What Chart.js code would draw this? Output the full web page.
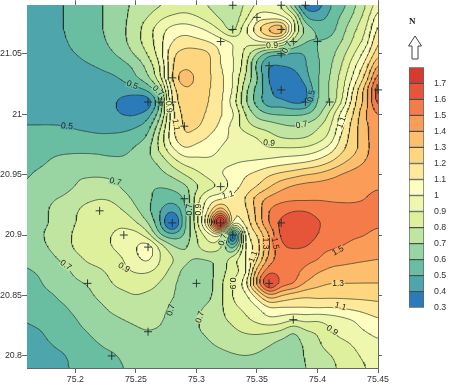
<!DOCTYPE html>
<html>
<head>
<meta charset="utf-8">
<script src="https://cdn.jsdelivr.net/npm/chart.js@4"></script>
<style>
  body { margin: 0; background: #fff; }
  #wrap { position: relative; width: 474px; height: 387px; overflow: hidden; }
  #wrap canvas { position: absolute; }
  #north { position: absolute; left: 409px; top: 16px; font: bold 9px "Liberation Serif"; color: #222; }
  #arrow { position: absolute; left: 406px; top: 35px; }
</style>
</head>
<body>
<div id="wrap">
  <canvas id="map" width="474" height="387" style="left:0;top:0"></canvas>
  <canvas id="bar" width="52" height="255" style="left:409px;top:60px"></canvas>
  <div id="north">N</div>
  <svg id="arrow" width="18" height="26"><path d="M9 1 L15.5 11 H12 V24 H6 V11 H2.5 Z" fill="#fff" stroke="#444" stroke-width="1"/></svg>
</div>
<script>
const lons = [75.16, 75.17, 75.18, 75.19, 75.2, 75.21, 75.22, 75.23, 75.24, 75.25, 75.26, 75.27, 75.28, 75.29, 75.3,
  75.31, 75.32, 75.33, 75.34, 75.35, 75.36, 75.37, 75.38, 75.39, 75.4, 75.41, 75.42, 75.43, 75.44, 75.45];
const lats = [21.09, 21.08, 21.07, 21.06, 21.05, 21.04, 21.03, 21.02, 21.01, 21, 20.99, 20.98, 20.97, 20.96, 20.95, 20.94,
  20.93, 20.92, 20.91, 20.9, 20.89, 20.88, 20.87, 20.86, 20.85, 20.84, 20.83, 20.82, 20.81, 20.8, 20.79];

// N values, one row per latitude, top row first
const values = [
  [.43,.44,.47,.5,.53,.56,.59,.63,.68,.72,.75,.79,.83,.85,.83,.79,.76,.76,.8,.92,.95,.9,.6,.34,.34,.49,.56,.68,.8,.95],
  [.43,.44,.47,.5,.53,.56,.59,.63,.68,.75,.8,.88,.92,.94,.91,.85,.78,.74,.85,1.05,1.05,1.02,.9,.5,.46,.52,.62,.72,.85,1.06],
  [.43,.44,.46,.5,.53,.56,.59,.63,.69,.76,.86,.96,1.04,1.06,1.03,.98,.88,.74,.98,1.18,1.36,1.47,.95,.68,.58,.55,.66,.78,.9,1.13],
  [.43,.44,.46,.49,.52,.55,.58,.62,.68,.77,.85,.97,1.1,1.15,1.13,1.1,1.05,1,.92,1,1.05,.98,.75,.6,.6,.62,.7,.82,.95,1.2],
  [.43,.44,.45,.48,.5,.53,.56,.59,.64,.72,.81,.96,1.18,1.24,1.25,1.22,1.09,1,.88,.68,.52,.5,.47,.5,.6,.66,.76,.89,1.05,1.27],
  [.43,.44,.44,.46,.47,.49,.51,.54,.57,.63,.74,.9,1.2,1.27,1.25,1.22,1.1,1.02,.85,.55,.39,.4,.43,.49,.58,.68,.8,.97,1.15,1.42],
  [.44,.44,.44,.44,.45,.46,.47,.48,.52,.59,.68,.88,1.21,1.39,1.28,1.22,1.13,1,.8,.62,.38,.29,.32,.46,.59,.7,.84,1.03,1.24,1.56],
  [.44,.44,.44,.44,.44,.44,.44,.44,.45,.46,.52,.7,1.15,1.28,1.26,1.21,1.13,1,.74,.56,.43,.3,.27,.36,.59,.71,.86,1.12,1.36,1.68],
  [.44,.44,.44,.44,.44,.44,.44,.42,.36,.32,.31,.6,1.12,1.26,1.26,1.2,1.12,.95,.72,.55,.43,.44,.37,.38,.61,.7,.9,1.17,1.35,1.65],
  [.44,.44,.44,.44,.44,.44,.43,.42,.39,.385,.45,.66,1.07,1.24,1.24,1.18,1.11,1.03,.8,.66,.6,.59,.59,.6,.66,.82,1.04,1.21,1.41,1.5],
  [.51,.51,.51,.505,.49,.48,.47,.47,.47,.49,.55,.77,1.07,1.22,1.22,1.15,1.08,.96,.85,.78,.76,.72,.7,.72,.78,.88,1.07,1.26,1.38,1.48],
  [.52,.53,.54,.535,.53,.525,.52,.52,.53,.56,.62,.84,1.07,1.19,1.14,1.09,1.03,.98,.95,.91,.84,.8,.79,.8,.85,.93,1.13,1.26,1.38,1.46],
  [.55,.56,.58,.585,.59,.59,.59,.58,.58,.62,.68,.82,.97,1.08,1.05,1.03,.99,.95,.92,.93,.92,.93,.93,.94,.98,1.06,1.18,1.27,1.38,1.45],
  [.57,.58,.61,.63,.63,.63,.62,.62,.62,.64,.67,.72,.84,.93,.96,.98,.98,.99,1.01,1.02,1.04,1.06,1.08,1.1,1.14,1.2,1.28,1.35,1.41,1.45],
  [.59,.62,.65,.67,.69,.69,.69,.68,.66,.65,.65,.67,.72,.8,.87,.93,1,1.04,1.09,1.13,1.19,1.23,1.26,1.3,1.32,1.36,1.41,1.44,1.46,1.46],
  [.61,.65,.67,.67,.7,.73,.74,.73,.68,.64,.61,.6,.62,.67,.78,.85,.91,1.05,1.13,1.2,1.29,1.37,1.42,1.44,1.45,1.46,1.46,1.47,1.48,1.49],
  [.63,.66,.69,.71,.75,.78,.8,.79,.74,.67,.62,.56,.54,.6,.85,1.03,1.08,1.13,1.2,1.35,1.43,1.47,1.48,1.48,1.49,1.49,1.49,1.49,1.5,1.53],
  [.65,.67,.71,.76,.79,.84,.85,.84,.8,.72,.62,.5,.4,.55,.87,1.12,1.42,1.09,1.17,1.33,1.51,1.56,1.6,1.6,1.56,1.53,1.52,1.52,1.52,1.53],
  [.66,.68,.705,.74,.8,.84,.87,.88,.88,.81,.7,.5,.2,.56,.86,1.24,2.12,1.05,1.12,1.32,1.51,1.63,1.68,1.68,1.62,1.56,1.55,1.54,1.53,1.52],
  [.66,.69,.72,.76,.82,.87,.89,.9,.93,.95,.84,.6,.53,.6,.8,.95,1,.1,1.03,1.2,1.4,1.63,1.68,1.68,1.6,1.53,1.52,1.51,1.5,1.47],
  [.65,.68,.71,.75,.82,.86,.88,.9,.93,1.0,1.08,.88,.72,.68,.78,.88,.82,.52,1,1.14,1.4,1.58,1.61,1.6,1.54,1.52,1.5,1.48,1.47,1.45],
  [.62,.65,.68,.72,.76,.82,.85,.87,.9,.98,1.03,.9,.82,.73,.69,.7,.72,.87,.99,1.18,1.44,1.56,1.55,1.53,1.51,1.44,1.43,1.42,1.41,1.4],
  [.59,.61,.64,.67,.72,.75,.78,.83,.88,.91,.91,.86,.76,.67,.64,.66,.76,.85,.95,1.35,1.58,1.56,1.53,1.48,1.41,1.38,1.37,1.36,1.35,1.35],
  [.56,.59,.63,.66,.685,.705,.74,.8,.83,.85,.84,.79,.72,.66,.63,.66,.78,.9,1.05,1.45,1.78,1.57,1.52,1.39,1.33,1.3,1.3,1.3,1.3,1.3],
  [.54,.57,.59,.62,.65,.68,.72,.76,.78,.8,.78,.76,.71,.65,.64,.67,.78,.91,.96,1.15,1.38,1.3,1.24,1.22,1.23,1.23,1.23,1.23,1.23,1.23],
  [.52,.55,.58,.59,.62,.65,.68,.72,.74,.74,.74,.73,.68,.64,.68,.72,.78,.88,.92,.98,1.09,1.09,1.1,1.1,1.11,1.1,1.11,1.13,1.15,1.17],
  [.505,.53,.56,.575,.595,.63,.66,.68,.7,.71,.72,.71,.67,.63,.69,.74,.78,.82,.88,.93,.98,.96,.91,.93,.91,.94,.97,1,1.05,1.09],
  [.48,.49,.53,.56,.58,.6,.63,.66,.68,.69,.7,.69,.67,.63,.69,.72,.76,.78,.81,.82,.81,.78,.69,.78,.81,.88,.94,.97,1,1.03],
  [.45,.47,.5,.53,.56,.58,.6,.62,.63,.64,.65,.65,.64,.64,.65,.69,.72,.74,.74,.74,.71,.66,.65,.72,.78,.85,.87,.91,.95,.98],
  [.42,.44,.47,.49,.53,.56,.58,.59,.61,.62,.63,.63,.63,.63,.63,.65,.67,.69,.7,.69,.66,.64,.64,.71,.75,.79,.84,.88,.92,.95],
  [.4,.42,.45,.48,.52,.54,.56,.58,.6,.61,.62,.62,.62,.62,.62,.63,.64,.65,.66,.65,.64,.63,.63,.7,.73,.77,.82,.86,.9,.93],
];

const levels = [.3, .4, .5, .6, .7, .8, .9, 1, 1.1, 1.2, 1.3, 1.4, 1.5, 1.6, 1.7, 1.8];
const bandColors = ["#2b7bba", "#4ea5ab", "#69bea2", "#99d5a3", "#bfe5a0", "#dff09c", "#eff7af", "#fdfebf",
  "#fee99a", "#fed680", "#fdbe6e", "#fc9c59", "#f67b4a", "#e6553a", "#d73a2f"];

const xTicks = [75.2, 75.25, 75.3, 75.35, 75.4, 75.45];
const yTicks = [20.8, 20.85, 20.9, 20.95, 21, 21.05];

// sampling sites, the + marks
const siteLons = [75.33, 75.32, 75.35, 75.37, 75.37, 75.38, 75.37, 75.36, 75.4, 75.37, 75.39, 75.41, 75.28, 75.27, 75.28, 75.26,
  75.29, 75.32, 75.29, 75.28, 75.32, 75.33, 75.22, 75.24, 75.26, 75.37, 75.36, 75.21, 75.26, 75.3, 75.38, 75.23, 75.33, 75.39, 75.45];
const siteLats = [21.07, 21.06, 21.08, 21.07, 21.09, 21.06, 21.05, 21.04, 21.06, 21.02, 21.01, 21.01, 21.03, 21.01, 21.01, 21.01,
  20.99, 20.94, 20.93, 20.91, 20.91, 20.9, 20.92, 20.9, 20.89, 20.91, 20.86, 20.86, 20.82, 20.86, 20.83, 20.8, 21.09, 21.09, 21.02];

// contour labels: lon, lat, text, rotation in degrees
const contourLabels = [
  [75.247, 21.024, "0.5", 20], [75.268, 21.019, "0.7", 45], [75.277, 21.006, "0.9", 85], [75.283, 20.991, "1.1", 80],
  [75.193, 20.99, "0.5", 5], [75.233, 20.944, "0.7", 15], [75.192, 20.875, "0.7", 35], [75.24, 20.873, "0.9", 30],
  [75.294, 20.921, "0.7", -90], [75.302, 20.921, "0.9", -90], [75.326, 20.933, "1.1", -15], [75.279, 20.838, "0.7", -75],
  [75.303, 20.832, "0.7", -72], [75.3625, 21.0566, "0.9", -3], [75.375, 21.055, "0.7", -60], [75.36, 20.976, "0.9", 5],
  [75.387, 20.991, "0.7", -10], [75.395, 21.015, "0.5", -80], [75.42, 20.993, "1.1", -70], [75.357, 20.893, "1.3", 90],
  [75.365, 20.893, "1.5", 80], [75.347, 20.882, "1.1", -70], [75.33, 20.86, "0.9", 90], [75.417, 20.86, "1.3", 0],
  [75.417, 20.887, "1.5", -30], [75.419, 20.841, "1.1", 15], [75.412, 20.821, "0.9", 35], [75.322, 20.896, "0.7", -70],
];

const xMin = lons[0], xMax = lons[lons.length - 1];
const yMin = lats[lats.length - 1], yMax = lats[0];

// Catmull-Rom mixed with a B-spline, the plain one wiggles on a grid this coarse
const SOFT = 0.5;
function blend(a, b, c, d, t) {
  const cr = b + 0.5 * t * (c - a + t * (2 * a - 5 * b + 4 * c - d + t * (3 * (b - c) + d - a)));
  const u = 1 - t;
  const bs = (a * u * u * u + b * (3 * t * t * t - 6 * t * t + 4) + c * (-3 * t * t * t + 3 * t * t + 3 * t + 1) + d * t * t * t) / 6;
  return (1 - SOFT) * cr + SOFT * bs;
}

// smooth reading of the grid between its nodes
function valueAt(lon, lat) {
  const fx = Math.min(Math.max((lon - xMin) / 0.01, 0), lons.length - 1.001);
  const fy = Math.min(Math.max((yMax - lat) / 0.01, 0), lats.length - 1.001);
  const i = Math.floor(fx), j = Math.floor(fy);
  const row = (k) => values[Math.min(Math.max(k, 0), lats.length - 1)];
  const at = (r, k) => r[Math.min(Math.max(k, 0), lons.length - 1)];
  const rowVal = (r) => blend(at(r, i - 1), at(r, i), at(r, i + 1), at(r, i + 2), fx - i);
  return blend(rowVal(row(j - 1)), rowVal(row(j)), rowVal(row(j + 1)), rowVal(row(j + 2)), fy - j);
}

function bandOf(v) {
  return Math.min(Math.max(Math.floor((v + 1e-9 - 0.3) / 0.1), 0), bandColors.length - 1);
}

const sub = 6, step = 0.01 / sub;
const nx = Math.round((xMax - xMin) / step), ny = Math.round((yMax - yMin) / step);
const lattice = [];
for (let j = 0; j <= ny; j++) {
  lattice.push([]);
  for (let i = 0; i <= nx; i++) lattice[j].push(valueAt(xMin + i * step, yMax - j * step));
}

// marching squares, then the segments get chained into whole polylines
function contourPoints(level) {
  const f = lattice;
  const cross = (a, b) => (level - a) / (b - a);
  const segs = [];
  const ends = new Map();
  const key = (p) => p.x.toFixed(6) + "," + p.y.toFixed(6);
  const addEnd = (p, id) => {
    const k = key(p);
    if (!ends.has(k)) ends.set(k, []);
    ends.get(k).push(id);
  };
  for (let j = 0; j < ny; j++) {
    for (let i = 0; i < nx; i++) {
      const a = f[j][i], b = f[j][i + 1], c = f[j + 1][i + 1], d = f[j + 1][i];
      const hit = [];
      const x0 = xMin + i * step, y0 = yMax - j * step;
      if ((a < level) !== (b < level)) hit.push({ x: x0 + cross(a, b) * step, y: y0 });
      if ((b < level) !== (c < level)) hit.push({ x: x0 + step, y: y0 - cross(b, c) * step });
      if ((d < level) !== (c < level)) hit.push({ x: x0 + cross(d, c) * step, y: y0 - step });
      if ((a < level) !== (d < level)) hit.push({ x: x0, y: y0 - cross(a, d) * step });
      for (let k = 0; k + 1 < hit.length; k += 2) {
        const id = segs.length;
        segs.push([hit[k], hit[k + 1]]);
        addEnd(hit[k], id);
        addEnd(hit[k + 1], id);
      }
    }
  }
  const used = new Array(segs.length).fill(false);
  const pts = [];
  const walk = (start, out) => {
    let cur = start;
    for (;;) {
      const next = (ends.get(key(cur)) || []).find((id) => !used[id]);
      if (next === undefined) return;
      used[next] = true;
      const [p, q] = segs[next];
      cur = key(p) === key(cur) ? q : p;
      out.push(cur);
    }
  };
  segs.forEach((seg, id) => {
    if (used[id]) return;
    used[id] = true;
    const head = [], tail = [];
    walk(seg[0], head);
    walk(seg[1], tail);
    pts.push(...head.reverse(), seg[0], seg[1], ...tail, { x: seg[0].x, y: NaN });
  });
  return pts;
}

const contourFill = {
  id: "contourFill",
  beforeDatasetsDraw(chart) {
    const { ctx, chartArea: area, scales } = chart;
    const w = Math.round(area.right - area.left), h = Math.round(area.bottom - area.top);
    const off = document.createElement("canvas");
    off.width = w;
    off.height = h;
    const octx = off.getContext("2d");
    for (let py = 0; py < h; py++) {
      for (let px = 0; px < w; px++) {
        const lon = scales.x.getValueForPixel(area.left + px + 0.5);
        const lat = scales.y.getValueForPixel(area.top + py + 0.5);
        octx.fillStyle = bandColors[bandOf(valueAt(lon, lat))];
        octx.fillRect(px, py, 1, 1);
      }
    }
    ctx.drawImage(off, area.left, area.top);
  },
  afterDatasetsDraw(chart) {
    const { ctx, scales } = chart;
    ctx.save();
    ctx.font = '8.5px "Liberation Sans"';
    ctx.textAlign = "center";
    ctx.textBaseline = "middle";
    contourLabels.forEach(([lon, lat, text, angle]) => {
      const x = scales.x.getPixelForValue(lon), y = scales.y.getPixelForValue(lat);
      ctx.save();
      ctx.translate(x, y);
      ctx.rotate((angle * Math.PI) / 180);
      ctx.fillStyle = bandColors[bandOf(valueAt(lon, lat))];
      ctx.fillRect(-6.5, -3.5, 13, 7);
      ctx.fillStyle = "#222";
      ctx.fillText(text, 0, 0);
      ctx.restore();
    });
    ctx.restore();
  },
};

const contourSets = levels.slice(1, -1).map((level) => ({
  label: "N " + level,
  type: "line",
  data: contourPoints(level),
  parsing: false,
  normalized: false,
  borderColor: "rgba(30,45,35,0.8)",
  borderWidth: 0.8,
  pointRadius: 0,
  spanGaps: false,
  tension: 0,
}));

const siteSet = {
  label: "sites",
  type: "scatter",
  data: siteLons.map((lon, i) => ({ x: lon, y: siteLats[i] })),
  pointStyle: "cross",
  pointRadius: 4,
  borderColor: "#1c2e2a",
  borderWidth: 0.9,
  clip: false,
};

function fixedTicks(list) {
  return (scale) => {
    scale.ticks = list.map((v) => ({ value: v }));
  };
}
const labelFont = { family: "Liberation Sans", size: 8.8 };
const axisBorder = { color: "#666", width: 1 };

new Chart(document.getElementById("map"), {
  type: "scatter",
  data: { datasets: [...contourSets, siteSet] },
  plugins: [contourFill],
  options: {
    responsive: false,
    animation: false,
    layout: { padding: 0 },
    plugins: { legend: { display: false }, tooltip: { enabled: false } },
    scales: {
      x: {
        type: "linear", position: "bottom", min: xMin, max: xMax,
        afterBuildTicks: fixedTicks(xTicks),
        afterFit: (s) => { s.height = 19; },
        border: axisBorder,
        grid: { drawOnChartArea: false, tickLength: 5, color: "#666" },
        ticks: { font: labelFont, color: "#333", padding: 1, maxRotation: 0, autoSkip: false, callback: (v) => String(+v.toFixed(2)) },
      },
      y: {
        type: "linear", position: "left", min: yMin, max: yMax,
        afterBuildTicks: fixedTicks(yTicks),
        afterFit: (s) => { s.width = 27; },
        border: axisBorder,
        grid: { drawOnChartArea: false, tickLength: 5, color: "#666" },
        ticks: { font: labelFont, color: "#333", padding: 0, autoSkip: false, callback: (v) => String(+v.toFixed(2)) },
      },
      x2: {
        type: "linear", position: "top", min: xMin, max: xMax,
        afterBuildTicks: fixedTicks(xTicks),
        afterFit: (s) => { s.height = 5; },
        border: axisBorder,
        grid: { drawOnChartArea: false, tickLength: 5, color: "#666" },
        ticks: { display: false },
      },
      y2: {
        type: "linear", position: "right", min: yMin, max: yMax,
        afterBuildTicks: fixedTicks(yTicks),
        afterFit: (s) => { s.width = 96; },
        border: axisBorder,
        grid: { drawOnChartArea: false, tickLength: 4, color: "#666" },
        ticks: { display: false },
      },
    },
  },
});

new Chart(document.getElementById("bar"), {
  type: "bar",
  data: {
    labels: ["N"],
    datasets: bandColors.map((color, i) => ({
      data: [[levels[i], levels[i + 1]]],
      backgroundColor: color,
      borderColor: "rgba(40,50,50,0.75)",
      borderWidth: 1,
      borderSkipped: false,
      grouped: false,
      barPercentage: 1,
      categoryPercentage: 1,
    })),
  },
  options: {
    responsive: false,
    animation: false,
    layout: { padding: { top: 5, bottom: 7 } },
    plugins: { legend: { display: false }, tooltip: { enabled: false } },
    scales: {
      x: { display: false },
      y: {
        position: "right", min: 0.3, max: 1.8,
        afterBuildTicks: fixedTicks(levels.slice(0, -1)),
        afterFit: (s) => { s.width = 37; },
        border: { display: false },
        grid: { display: false },
        ticks: { font: labelFont, color: "#333", padding: 2, align: "center", crossAlign: "near", callback: (v) => String(+v.toFixed(1)) },
      },
    },
  },
});
</script>
</body>
</html>
